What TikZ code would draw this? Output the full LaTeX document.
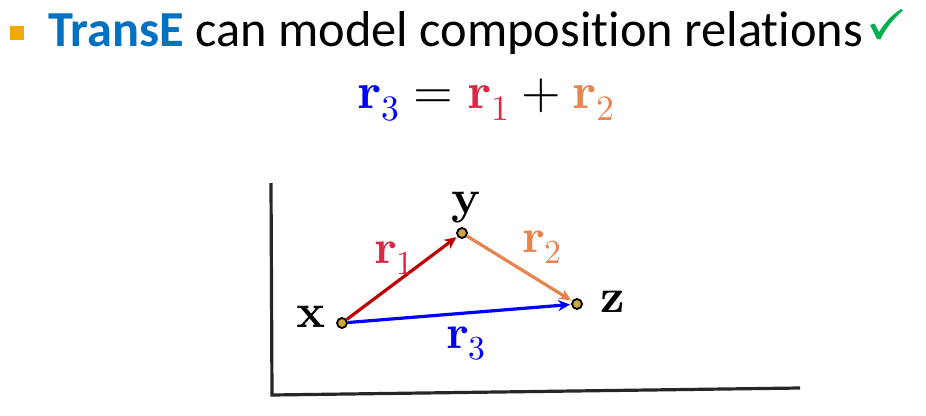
\documentclass[tikz,border=0pt]{standalone}
\usepackage{fontspec}
\setmainfont{Carlito}[Ligatures=NoCommon]
\usepackage{amsmath}
\usepackage{unicode-math}
\setmathfont{Latin Modern Math}
\definecolor{tblue}{HTML}{0070C0}
\definecolor{bul}{HTML}{F2A900}
\definecolor{chk}{HTML}{00B050}
\definecolor{rone}{HTML}{DC2844}
\definecolor{rtwo}{HTML}{E8834E}
\definecolor{rthree}{HTML}{0000FF}
\definecolor{aone}{HTML}{C00000}
\definecolor{ptfill}{HTML}{C9A640}
\tikzset{
  pt/.style={circle,draw=black,line width=1.8pt,fill=ptfill,inner sep=0pt,minimum size=10pt},
  lab/.style={font=\fontsize{48}{48}\selectfont,anchor=base,inner sep=0pt},
  vec/.style={line width=3.2pt,-{Stealth[length=12pt,width=11pt]},shorten >=1pt},
  axis/.style={line width=3.2pt,draw=black!85}
}
\usetikzlibrary{arrows.meta}
\begin{document}
\begin{tikzpicture}[x=1pt,y=-1pt]
\useasboundingbox (0,0) rectangle (926,415);
\fill[bul] (10,26) rectangle (24,40);
\node[anchor=base west,inner sep=0pt,font=\fontsize{50.4}{50}\selectfont] (title) at (48,46) {\textbf{\textcolor{tblue}{TransE}} can model composition relations};
\fill[chk] (870,25) -- (874.5,23.5) -- (879,32) .. controls (886,21) and (893,14) .. (901,9) -- (903,10.5) .. controls (894,18) and (886,28) .. (880.5,39) -- (877,39) -- cycle;
\node[anchor=base,inner sep=0pt,font=\fontsize{51}{51}\selectfont] (eq) at (486,108) {$\textcolor{rthree}{\symbf{r}_3}=\textcolor{rone}{\symbf{r}_1}+\textcolor{rtwo}{\symbf{r}_2}$};
\coordinate (ot) at (271,183);
\coordinate (o) at (272,395);
\coordinate (xe) at (800,388);
\draw[axis] (ot) -- (o) -- (xe);
\node[pt] (px) at (342,323) {};
\node[pt] (py) at (462,233) {};
\node[pt] (pz) at (577,304) {};
\draw[vec,aone] (px) -- (py);
\draw[vec,rtwo] (py) -- (pz);
\draw[vec,rthree] (px) -- (pz);
\node[lab] (lx) at (311,327) {$\symbf{x}$};
\node[lab] (ly) at (466,213) {$\symbf{y}$};
\node[lab] (lz) at (613,312) {$\symbf{z}$};
\node[lab,anchor=base west,text=rone] (l1) at (374,263) {$\symbf{r}_1$};
\node[lab,anchor=base west,text=rtwo] (l2) at (522,252) {$\symbf{r}_2$};
\node[lab,anchor=base west,text=rthree] (l3) at (446,348) {$\symbf{r}_3$};
\end{tikzpicture}
\end{document}
